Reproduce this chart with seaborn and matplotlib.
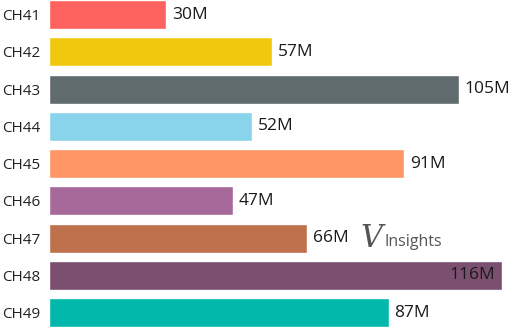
import matplotlib
matplotlib.use("Agg")
import matplotlib.pyplot as plt
import seaborn as sns
import pandas as pd

categories = ["CH41", "CH42", "CH43", "CH44", "CH45", "CH46", "CH47", "CH48", "CH49"]
values = [30, 57, 105, 52, 91, 47, 66, 116, 87]
labels = ["30M", "57M", "105M", "52M", "91M", "47M", "66M", "116M", "87M"]
colors = ["#FD625E", "#F2C80F", "#5F6B6D", "#8AD4EB", "#FE9666",
          "#A66999", "#BF714D", "#7B4F6F", "#01B8AA"]

sns.set_style("white")
plt.rcParams['font.family'] = ['Open Sans', 'DejaVu Sans']

df = pd.DataFrame({"cat": categories, "val": values})

fig = plt.figure(figsize=(5.14, 3.31), dpi=100)
ax = fig.add_axes([49/514, 0, 1 - 49/514, 1])

sns.barplot(data=df, x="val", y="cat", hue="cat", palette=colors, legend=False,
            orient="h", width=0.78, ax=ax, saturation=1, zorder=2)
ax.set_xlim(0, 119.1)
ax.set_ylim(8.49, -0.39)

for i, (v, lab) in enumerate(zip(values, labels)):
    if v > 110:
        ax.text(v - 1.6, i, lab, ha="right", va="center", fontsize=12.5, color="#1a1a1a", zorder=3)
    else:
        ax.text(v + 1.5, i, lab, ha="left", va="center", fontsize=12.5, color="#1a1a1a", zorder=3)

ax.set_xlabel("")
ax.set_ylabel("")
ax.set_xticks([])
ax.tick_params(axis="y", length=0, pad=6, labelsize=11, labelcolor="#222222")
for s in ax.spines.values():
    s.set_visible(False)

# logo
fig.text(0.722, 0.278, "V", fontsize=22, color="#555555", family="DejaVu Serif",
         fontstyle="italic", ha="center", va="center")
fig.text(0.748, 0.268, "Insights", fontsize=11.5, color="#555555", ha="left", va="center")

fig.savefig("out.png", dpi=100)
